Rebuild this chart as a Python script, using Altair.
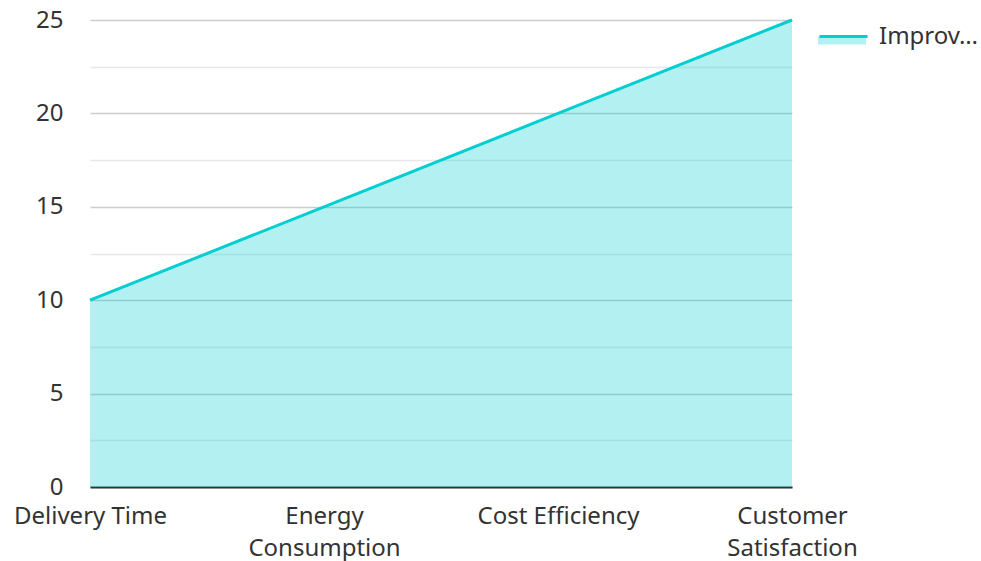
import altair as alt
import pandas as pd

categories = ["Delivery Time", "Energy Consumption", "Cost Efficiency", "Customer Satisfaction"]
values = [10, 15, 20, 25]
series_name = "Improvement (%)"
y_ticks = [0, 2.5, 5, 7.5, 10, 12.5, 15, 17.5, 20, 22.5, 25]

df = pd.DataFrame({"category": categories, "value": values, "series": [series_name] * len(categories)})

FONT = "Noto Sans"
TURQ = "#00CED1"
FS = 24

x_enc = alt.X(
    "category:N",
    sort=categories,
    scale=alt.Scale(type="point", padding=0),
    axis=alt.Axis(
        title=None,
        labelAngle=0,
        labelFontSize=FS,
        labelColor="#333333",
        labelFont=FONT,
        labelPadding=17,
        labelLineHeight=32,
        labelExpr="length(datum.label) > 16 ? split(datum.label, ' ') : datum.label",
        ticks=False,
        domain=True,
        domainColor="#333333",
        domainWidth=2,
        grid=False,
    ),
)

y_enc = alt.Y(
    "value:Q",
    scale=alt.Scale(domain=[0, 25], nice=False),
    axis=alt.Axis(
        title=None,
        values=y_ticks,
        labelExpr="datum.value % 5 === 0 ? datum.label : ''",
        labelFontSize=FS,
        labelColor="#333333",
        labelFont=FONT,
        labelPadding=27,
        ticks=False,
        domain=False,
        grid=True,
        gridColor={"condition": {"test": "datum.value % 5 === 0", "value": "#cccccc"}, "value": "#e8e8e8"},
        gridWidth=1.5,
    ),
)

area = alt.Chart(df).mark_area(opacity=0.3, strokeWidth=0).encode(
    x=x_enc,
    y=y_enc,
    fill=alt.Fill(
        "series:N",
        scale=alt.Scale(range=[TURQ]),
        legend=alt.Legend(
            title=None,
            orient="none",
            legendX=728,
            legendY=-9,
            padding=0,
            symbolType="M-1,0.06 L1,0.06 L1,0.4 L-1,0.4 Z",
            symbolSize=2304,
            symbolOpacity=0.3,
            symbolStrokeWidth=0,
            labelExpr="''",
        ),
    ),
)

line = alt.Chart(df).mark_line(strokeWidth=3, color=TURQ).encode(
    x=x_enc,
    y=y_enc,
    stroke=alt.Stroke(
        "series:N",
        scale=alt.Scale(range=[TURQ]),
        legend=alt.Legend(
            title=None,
            orient="none",
            legendX=728,
            legendY=-9,
            padding=0,
            symbolType="stroke",
            symbolSize=2304,
            symbolStrokeWidth=3,
            labelFontSize=FS,
            labelFont=FONT,
            labelColor="#333333",
            labelLimit=100,
            labelOffset=10,
        ),
    ),
)

chart = (
    alt.layer(area, line)
    .resolve_legend(fill="independent", stroke="independent")
    .properties(
        width=702,
        height=467,
        autosize=alt.AutoSizeParams(type="none"),
        padding={"left": 90, "top": 20, "right": 189, "bottom": 74},
        view=alt.ViewBackground(stroke="transparent", strokeWidth=0),
    )
    .configure_view(stroke="transparent", strokeWidth=0)
    .configure(font=FONT)
)

chart.save("out.html", embed_options={"renderer": "svg", "actions": False})
